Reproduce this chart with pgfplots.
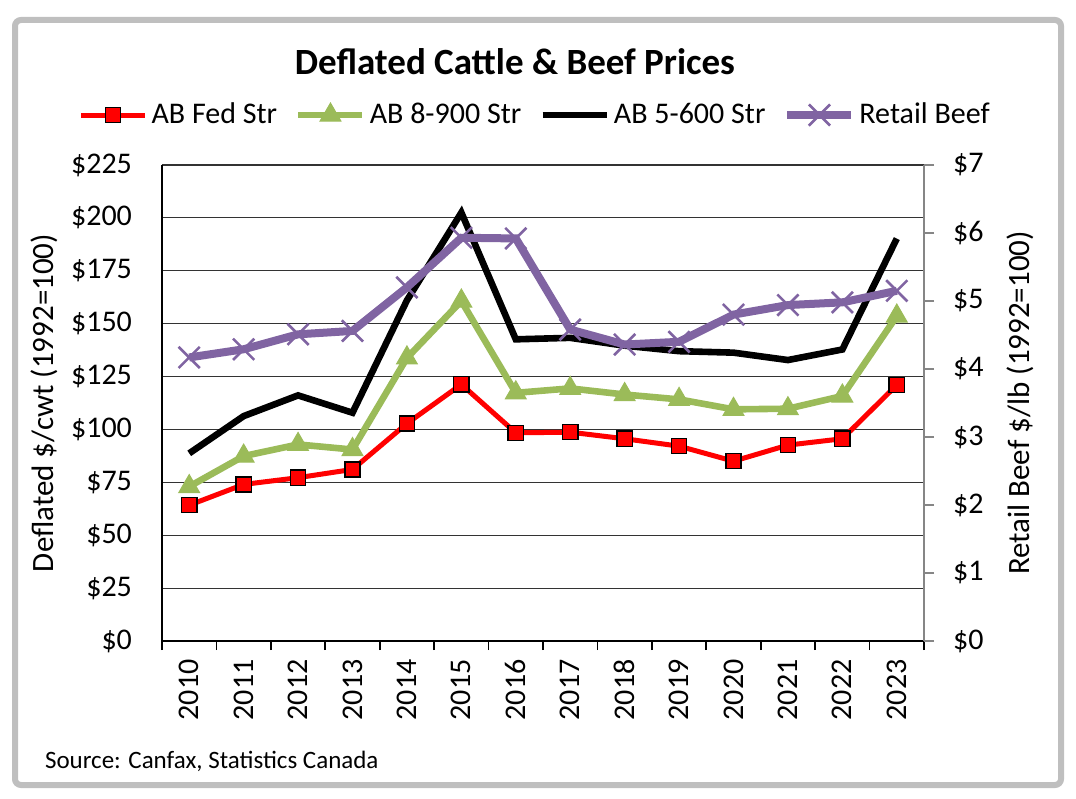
\documentclass[border=0pt]{standalone}
\usepackage{fontspec}
\setmainfont{Carlito}
\usepackage{pgfplots}
\pgfplotsset{compat=1.18}
\definecolor{cred}{HTML}{FF0000}
\definecolor{cgreen}{HTML}{9BBB59}
\definecolor{cpurple}{HTML}{8064A2}
\definecolor{raxis}{HTML}{868686}
\definecolor{frame}{HTML}{BFBFBF}
\begin{document}
\begin{tikzpicture}[x=1pt,y=1pt]
\path[use as bounding box] (0,0) rectangle (538,399);
\draw[line width=3pt, color=frame, rounded corners=3pt] (7.5,6.5) rectangle (530.5,389);
\node[font=\fontsize{18.5}{20}\selectfont\bfseries] at (257.5,368) {Deflated Cattle \& Beef Prices};
\node[anchor=west, font=\fontsize{12.5}{14}\selectfont] at (19,18.5) {Source: Canfax, Statistics Canada};

\begin{axis}[
  at={(81pt,78.5pt)}, anchor=south west,
  scale only axis, width=381pt, height=238pt,
  xmin=-0.5, xmax=13.5, ymin=0, ymax=225,
  axis x line*=bottom, axis y line*=left,
  axis line style={black, line width=0.8pt},
  xtick={-0.5,0.5,...,13.5}, xticklabels={},
  tick align=outside, major tick length=4.5pt,
  xtick style={black, line width=0.8pt},
  ticklabel style={font=\fontsize{15}{17}\selectfont},
  xticklabel style={rotate=90, anchor=east, inner sep=1pt},
  xticklabel shift=8pt,
  extra x ticks={0,1,...,13},
  extra x tick labels={2010,2011,2012,2013,2014,2015,2016,2017,2018,2019,2020,2021,2022,2023},
  extra x tick style={major tick length=0pt},
  ytick={0,25,...,225},
  yticklabels={\$0,\$25,\$50,\$75,\$100,\$125,\$150,\$175,\$200,\$225},
  ytick style={draw=none},
  yticklabel style={xshift=-7pt},
  ymajorgrids, major grid style={black!80, line width=0.6pt},
  ylabel={Deflated \$/cwt (1992=100)},
  ylabel style={at={(axis description cs:-0.155,0.5)}, anchor=center, font=\fontsize{15.5}{17}\selectfont},
  legend columns=4,
  legend style={at={(axis description cs:0.491,1.105)}, anchor=center, draw=none, fill=none,
    font=\fontsize{15}{17}\selectfont, /tikz/every even column/.append style={column sep=7pt}},
  legend image code/.code={\draw[mark repeat=2,mark phase=2,#1] plot coordinates {(0pt,0pt) (16pt,0pt) (32pt,0pt)};},
  clip=false,
]
\addplot[cred, line width=2.5pt, mark=square*, mark size=3.8pt, mark options={solid, fill=cred, draw=black, line width=0.7pt}]
coordinates {(0,64.2) (1,74.0) (2,77.2) (3,81.1) (4,102.8) (5,121.3) (6,98.4) (7,98.7) (8,95.6) (9,92.1) (10,85.0) (11,92.6) (12,95.6) (13,121.0)};
\addlegendentry{AB Fed Str}
\addplot[cgreen, line width=3.3pt, mark=triangle*, mark size=6pt, mark options={solid, fill=cgreen, draw=cgreen, line width=0.5pt}]
coordinates {(0,73.0) (1,87.4) (2,92.9) (3,90.5) (4,133.8) (5,160.7) (6,117.3) (7,119.4) (8,116.5) (9,114.2) (10,109.5) (11,109.8) (12,115.8) (13,153.6)};
\addlegendentry{AB 8-900 Str}
\addplot[black, line width=3.3pt]
coordinates {(0,88.7) (1,106.3) (2,116.1) (3,107.9) (4,161.0) (5,202.5) (6,142.6) (7,143.3) (8,139.6) (9,137.0) (10,136.3) (11,132.8) (12,137.8) (13,190.2)};
\addlegendentry{AB 5-600 Str}
\addlegendimage{cpurple, line width=4pt, mark=x, mark size=7.5pt, mark options={solid, line width=1.3pt}}
\addlegendentry{Retail Beef}
\end{axis}

\begin{axis}[
  at={(81pt,78.5pt)}, anchor=south west,
  scale only axis, width=381pt, height=238pt,
  xmin=-0.5, xmax=13.5, ymin=0, ymax=7,
  axis x line=none, axis y line*=right,
  y axis line style={raxis, line width=1pt},
  ytick={0,1,...,7},
  yticklabels={\$0,\$1,\$2,\$3,\$4,\$5,\$6,\$7},
  tick align=outside, major tick length=5pt,
  ytick style={raxis, line width=1pt},
  yticklabel style={font=\fontsize{15}{17}\selectfont, xshift=6pt},
  ylabel={Retail Beef \$/lb (1992=100)},
  ylabel style={at={(axis description cs:1.126,0.5)}, anchor=center, rotate=0, font=\fontsize{15.5}{17}\selectfont},
  clip=false,
]
\addplot[cpurple, line width=4pt, mark=x, mark size=7.5pt, mark options={solid, line width=1.3pt}]
coordinates {(0,4.17) (1,4.29) (2,4.51) (3,4.56) (4,5.20) (5,5.93) (6,5.92) (7,4.58) (8,4.36) (9,4.40) (10,4.80) (11,4.94) (12,4.98) (13,5.15)};
\end{axis}
\end{tikzpicture}
\end{document}
